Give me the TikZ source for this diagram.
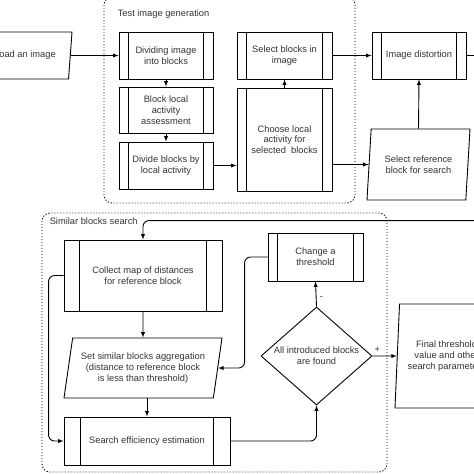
\documentclass[tikz,border=0pt]{standalone}
\usepackage{fontspec}
\setmainfont{Liberation Sans}
\usetikzlibrary{shapes.geometric,calc}

\begin{document}
\begin{tikzpicture}[x=1pt, y=1pt, line width=0.9pt,
    every node/.style={font=\fontsize{9.3}{10.8}\selectfont, text=black!80},
    procbox/.style={rectangle, draw, align=center, path picture={
        \draw ($(path picture bounding box.north west)!0.1!(path picture bounding box.north east)$) -- ($(path picture bounding box.south west)!0.1!(path picture bounding box.south east)$);
        \draw ($(path picture bounding box.north west)!0.9!(path picture bounding box.north east)$) -- ($(path picture bounding box.south west)!0.9!(path picture bounding box.south east)$);}},
    databox/.style={trapezium, draw, align=center, trapezium stretches body, inner sep=1pt},
    decision/.style={diamond, draw, align=center, aspect=1.13, inner sep=0pt},
    group/.style={dash pattern=on 1.2pt off 1.8pt, rounded corners=8pt},
    arrow/.style={->, >=latex},
    flow/.style={->, >=latex, rounded corners=6pt}
]
\useasboundingbox (0,0) rectangle (474,-474);

% Gruppi
\draw[group] (104,3) rectangle (355,-203);
\node[anchor=west] (testlbl) at (114,-14) {Test image generation};
\draw[group] (42,-213) rectangle (387,-472);
\node[anchor=west] (searchlbl) at (46,-221) {Similar blocks search};

% Generazione dell'immagine di test
\node[databox, trapezium left angle=72, trapezium right angle=108, minimum width=94pt, minimum height=47pt] (load) at (25,-55.5) {Load an image};
\node[procbox, minimum width=94pt, minimum height=47pt] (divide) at (166,-55.5) {Dividing image\\into blocks};
\node[procbox, minimum width=94pt, minimum height=46pt] (assess) at (166,-110) {Block local\\activity\\assessment};
\node[procbox, minimum width=94pt, minimum height=47pt] (divact) at (166,-165.5) {Divide blocks by\\local activity};
\node[procbox, minimum width=95pt, minimum height=47pt] (selblk) at (284.5,-55.5) {Select blocks in\\image};
\node[procbox, minimum width=95pt, minimum height=103pt] (choose) at (284.5,-139.5) {Choose local\\activity for\\selected~~blocks};
\node[procbox, minimum width=94pt, minimum height=47pt] (distort) at (419,-55.5) {Image distortion};
\node[databox, trapezium left angle=78, trapezium right angle=102, minimum width=103pt, minimum height=71pt] (selref) at (418.5,-164.5) {Select reference\\block for search};

% Ricerca dei blocchi simili
\node[procbox, minimum width=158pt, minimum height=71pt] (collect) at (143,-275.5) {Collect map of distances\\for reference block};
\node[databox, trapezium left angle=75, trapezium right angle=105, minimum width=158pt, minimum height=60pt] (setsim) at (143,-368) {Set similar blocks aggregation\\(distance to reference block\\is less than threshold)};
\node[procbox, minimum width=166pt, minimum height=48pt] (search) at (147,-441) {Search efficiency estimation};
\node[decision, minimum width=111pt, minimum height=98pt] (found) at (316.5,-356) {All introduced blocks\\are found};
\node[procbox, minimum width=95pt, minimum height=48pt] (change) at (315.5,-257) {Change a\\threshold};
\node[databox, trapezium left angle=82, trapezium right angle=98, minimum width=103pt, minimum height=104pt] (final) at (446.5,-356) {Final threshold\\value and other\\search parameters};

% Frecce
\draw[arrow] (load.east) -- (divide.west);
\draw[arrow] (divide) -- (assess);
\draw[arrow] (assess) -- (divact);
\draw[arrow] (divact.east) -- (divact.east -| choose.west);
\draw[arrow] (choose) -- (selblk);
\draw[arrow] (selblk) -- (distort);
\draw[arrow] (choose.east |- selref.west) -- (selref.west);
\draw[arrow] (selref.north) -- (distort.south);
\draw[flow] (distort.east) -- ++(20,0) |- ([yshift=19pt]collect.north) -- (collect.north);
\draw[arrow] (collect) -- (setsim);
\draw[arrow] (search.north |- setsim.south) -- (search.north);
\draw[flow] (collect.west) -- ++(-15,0) |- (search.west);
\draw[flow] (search.east) -| (found.south);
\draw[arrow] (found.north) -- node[right, pos=0.35] {-} (change.south);
\draw[flow] (change.west) -- ++(-23,0) |- (setsim.east);
\draw[arrow] (found.east) -- node[above, pos=0.2] {+} (final.west);

\end{tikzpicture}
\end{document}
